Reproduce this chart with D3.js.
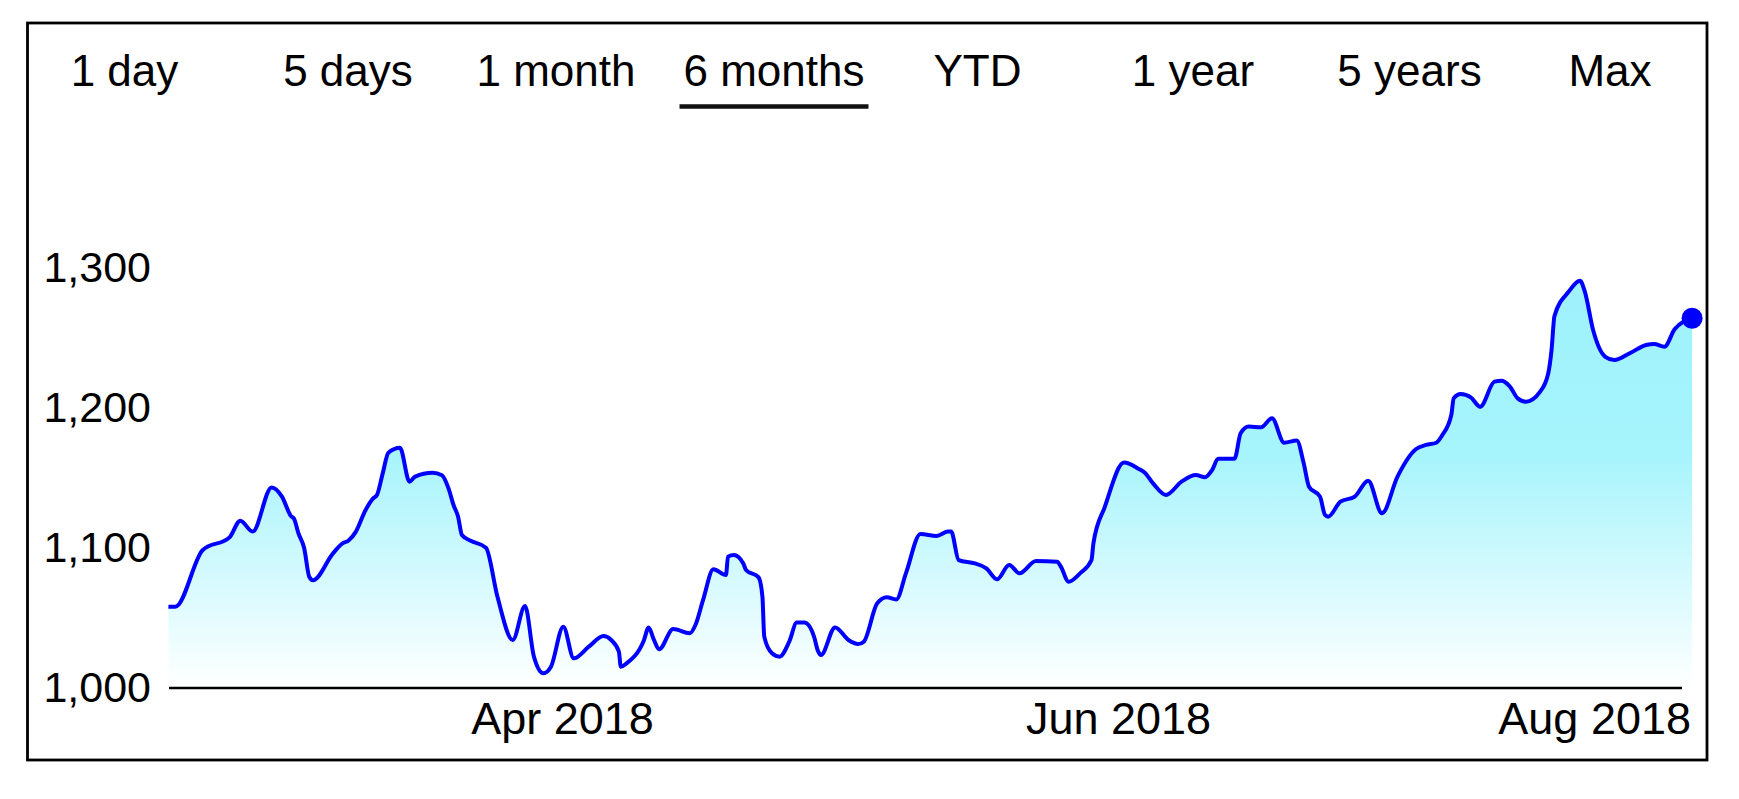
<!DOCTYPE html>
<html>
<head>
<meta charset="utf-8">
<script src="https://cdn.jsdelivr.net/npm/d3@7"></script>
<style>
  html, body { margin: 0; padding: 0; background: #fff; }
  svg { display: block; font-family: "Liberation Sans", Arial, Helvetica, sans-serif; }
</style>
</head>
<body>
<svg id="chart" width="1739" height="799"></svg>
<script>
// ---------- data ----------
const menuLabels = ["1 day", "5 days", "1 month", "6 months", "YTD", "1 year", "5 years", "Max"];
const selectedRange = "6 months";

// days since 1 Jan 2018 (UTC)
const days = [
  46.82, 47.58, 50.59, 53.53, 54.71, 56.06, 58.15, 59.28, 60.26, 60.59,
  61.09, 61.72, 62.27, 62.68, 64.88, 65.92, 66.56, 67.39, 68.44, 69.28,
  69.70, 70.33, 70.95, 72.22, 73.27, 73.89, 75.79, 76.83, 77.55, 78.10,
  78.60, 79.02, 79.98, 81.66, 82.92, 84.60, 85.94, 86.92, 87.96, 88.79,
  90.14, 91.29, 92.94, 94.56, 95.40, 96.24, 96.45, 97.08, 98.97, 99.51,
  100.02, 100.65, 102.20, 104.01, 104.64, 105.48, 106.61, 107.99, 108.21, 108.84,
  109.89, 110.19, 111.57, 111.99, 112.19, 113.04, 113.87, 114.93, 115.76, 116.60,
  117.65, 118.07, 118.42, 119.96, 121.43, 122.49, 123.11, 124.58, 125.63, 126.68,
  127.73, 129.33, 131.09, 132.35, 132.69, 133.52, 135.29, 136.55, 137.72, 139.06,
  140.20, 142.00, 144.32, 144.73, 145.58, 146.83, 148.09, 148.30, 149.56, 151.66,
  153.35, 153.94, 154.84, 156.26, 157.97, 159.53, 160.55, 161.32, 161.99, 163.78,
  164.45, 165.34, 166.69, 167.89, 169.23, 170.61, 171.37, 171.95, 173.16, 173.71,
  174.06, 175.40, 176.97, 178.44, 179.96, 181.66, 183.67, 184.79, 185.91, 186.58,
  187.56, 187.83, 188.59, 189.70, 190.73, 192.30, 193.06, 193.95, 194.85, 195.74,
  197.31, 198.20, 198.56, 198.88, 200.43, 201.68, 202.22, 203.12, 204.46, 205.45,
  207.14, 208.93, 209.82, 210.95, 212.06, 213.98
];
const prices = [
  1058.1, 1058.0, 1098.6, 1107.6, 1119.5, 1111.7, 1143.3, 1136.7, 1122.9, 1121.0,
  1110.5, 1099.8, 1079.5, 1077.0, 1096.2, 1103.3, 1105.2, 1111.7, 1127.0, 1135.5,
  1137.9, 1153.3, 1168.0, 1171.6, 1147.4, 1151.0, 1153.8, 1152.0, 1142.6, 1130.7,
  1122.4, 1109.3, 1105.2, 1100.2, 1065.2, 1034.3, 1058.6, 1022.4, 1010.5, 1015.2,
  1043.8, 1021.2, 1029.5, 1037.1, 1034.3, 1025.9, 1015.2, 1017.6, 1033.8, 1043.3,
  1035.5, 1027.6, 1042.1, 1039.1, 1045.0, 1062.9, 1084.8, 1080.7, 1093.8, 1095.0,
  1089.0, 1084.3, 1079.0, 1065.2, 1036.7, 1024.8, 1022.4, 1033.1, 1046.7, 1046.7,
  1036.7, 1026.7, 1023.6, 1043.3, 1034.3, 1031.4, 1033.1, 1060.5, 1064.8, 1063.3,
  1081.9, 1110.0, 1108.6, 1111.7, 1111.7, 1091.4, 1089.0, 1085.5, 1077.6, 1087.9,
  1081.9, 1090.7, 1090.2, 1086.7, 1075.9, 1081.9, 1091.4, 1103.3, 1129.5, 1161.0,
  1156.2, 1153.8, 1146.2, 1137.9, 1147.4, 1152.1, 1150.5, 1155.7, 1163.8, 1163.8,
  1181.9, 1186.7, 1186.2, 1192.6, 1175.2, 1176.7, 1160.5, 1143.8, 1136.7, 1123.6,
  1122.4, 1133.1, 1136.7, 1148.1, 1124.8, 1151.0, 1170.5, 1173.6, 1175.2, 1180.7,
  1195.0, 1206.9, 1210.0, 1207.6, 1200.9, 1218.8, 1219.5, 1215.7, 1206.9, 1204.5,
  1211.7, 1224.8, 1241.4, 1265.7, 1283.0, 1290.9, 1283.0, 1255.7, 1236.6, 1234.3,
  1239.1, 1245.0, 1245.7, 1243.8, 1256.2, 1264.1
];

const yTicks = [1000, 1100, 1200, 1300];
const xTickDates = ["2018-04-01", "2018-06-01", "2018-08-01"];
const xTickLabels = ["Apr 2018", "Jun 2018", "Aug 2018"];

// ---------- layout ----------
const W = 1739, H = 799;
const frame = { x: 27.5, y: 23, w: 1679.5, h: 737 };
const plot = { left: 168.4, right: 1692.1, top: 268, bottom: 688 };
const menuCenters = [124.5, 348, 556, 774, 977.5, 1193, 1409.5, 1610];
const MENU_FONT = 44, Y_FONT = 43, X_FONT = 45;

const day0 = Date.UTC(2018, 0, 1);
const data = days.map((d, i) => ({ date: new Date(day0 + d * 864e5), value: prices[i] }));

const svg = d3.select("#chart");
svg.append("rect").attr("width", W).attr("height", H).attr("fill", "#fff");

// frame
svg.append("rect")
  .attr("x", frame.x).attr("y", frame.y)
  .attr("width", frame.w).attr("height", frame.h)
  .attr("fill", "none").attr("stroke", "#000").attr("stroke-width", 2.8);

// range menu
const menu = svg.append("g");
menuLabels.forEach((lab, i) => {
  const t = menu.append("text")
    .attr("x", menuCenters[i]).attr("y", 85.5)
    .attr("text-anchor", "middle")
    .attr("font-size", MENU_FONT)
    .attr("fill", "#000")
    .text(lab);
  if (lab === selectedRange) {
    const w = t.node().getComputedTextLength();
    menu.append("line")
      .attr("x1", menuCenters[i] - w / 2 - 4).attr("x2", menuCenters[i] + w / 2 + 4)
      .attr("y1", 106.5).attr("y2", 106.5)
      .attr("stroke", "#111").attr("stroke-width", 4.5);
  }
});

// scales
const x = d3.scaleUtc()
  .domain(d3.extent(data, d => d.date))
  .range([plot.left, plot.right]);
const y = d3.scaleLinear()
  .domain([1000, 1300])
  .range([plot.bottom, plot.top]);

// gradient
const defs = svg.append("defs");
const grad = defs.append("linearGradient")
  .attr("id", "fillGrad")
  .attr("gradientUnits", "userSpaceOnUse")
  .attr("x1", 0).attr("x2", 0)
  .attr("y1", y(1290)).attr("y2", plot.bottom);
grad.append("stop").attr("offset", 0).attr("stop-color", "#9ef2fb");
grad.append("stop").attr("offset", 0.42).attr("stop-color", "#a6f4fc");
grad.append("stop").attr("offset", 1).attr("stop-color", "#ffffff");

const curve = d3.curveMonotoneX;

svg.append("path")
  .datum(data)
  .attr("fill", "url(#fillGrad)")
  .attr("d", d3.area().curve(curve).x(d => x(d.date)).y0(plot.bottom - 1).y1(d => y(d.value)));

// x axis labels
const xAxis = d3.axisBottom(x)
  .tickValues(xTickDates.map(s => new Date(s + "T00:00:00Z")))
  .tickSize(0)
  .tickPadding(0)
  .tickFormat((d, i) => xTickLabels[i]);
const gx = svg.append("g").attr("transform", `translate(0,${plot.bottom})`).call(xAxis);
gx.select(".domain").remove();
gx.selectAll("text")
  .attr("font-size", X_FONT)
  .attr("font-family", "Liberation Sans, Arial, sans-serif")
  .attr("fill", "#000")
  .attr("dy", null)
  .attr("y", 46.3);
// keep labels inside the frame
gx.selectAll(".tick").each(function () {
  const tick = d3.select(this);
  const text = tick.select("text");
  const w = text.node().getComputedTextLength();
  const tx = +tick.attr("transform").match(/translate\(([-\d.]+)/)[1];
  const maxRight = 1691;
  if (tx + w / 2 > maxRight) text.attr("x", maxRight - w / 2 - tx);
});

// x axis baseline
svg.append("line")
  .attr("x1", 169).attr("x2", 1682)
  .attr("y1", plot.bottom).attr("y2", plot.bottom)
  .attr("stroke", "#000").attr("stroke-width", 2.6);

// y axis labels
const yAxis = d3.axisLeft(y)
  .tickValues(yTicks)
  .tickSize(0)
  .tickPadding(0)
  .tickFormat(d3.format(","));
const gy = svg.append("g").attr("transform", "translate(151,0)").call(yAxis);
gy.select(".domain").remove();
gy.selectAll("text")
  .attr("font-size", Y_FONT)
  .attr("font-family", "Liberation Sans, Arial, sans-serif")
  .attr("fill", "#000")
  .attr("dy", null)
  .attr("y", 13.5);

// line
svg.append("path")
  .datum(data)
  .attr("fill", "none")
  .attr("stroke", "#0000ff")
  .attr("stroke-width", 4)
  .attr("stroke-linejoin", "round")
  .attr("d", d3.line().curve(curve).x(d => x(d.date)).y(d => y(d.value)));

// last point marker
const last = data[data.length - 1];
svg.append("circle")
  .attr("cx", x(last.date)).attr("cy", y(last.value))
  .attr("r", 10.5)
  .attr("fill", "#0000ff");
</script>
</body>
</html>
